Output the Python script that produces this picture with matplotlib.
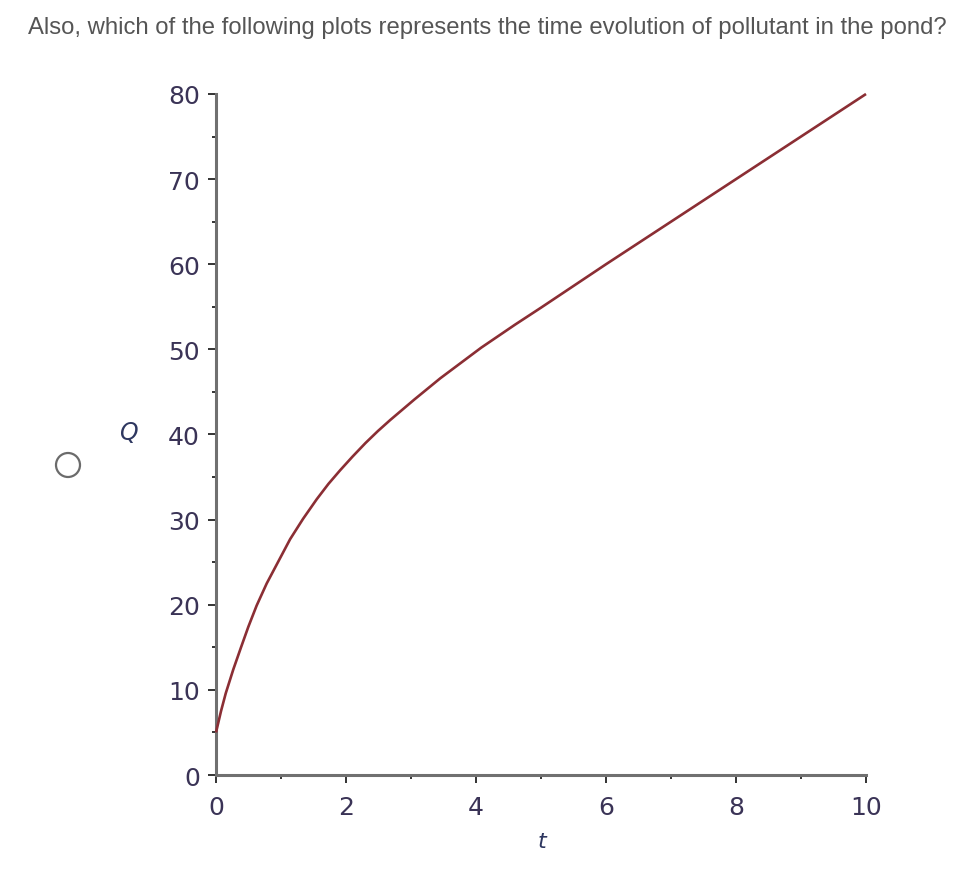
import numpy as np
import matplotlib
matplotlib.use("Agg")
import matplotlib.pyplot as plt
from matplotlib.patches import Ellipse
from matplotlib.ticker import MultipleLocator

# ── data ─────────────────────────────────────────────────────────────
t_vals = [0.0, 0.077, 0.15, 0.266, 0.385, 0.497, 0.625, 0.78, 0.96, 1.14,
          1.34, 1.55, 1.73, 1.91, 2.1, 2.3, 2.49, 2.68, 3.05, 3.45,
          3.8, 4.08, 4.6, 5.0, 5.5, 6.0, 7.0, 8.0, 9.0, 10.0]
q_vals = [5.0, 7.5, 9.6, 12.4, 15.0, 17.4, 19.9, 22.5, 25.1, 27.7,
          30.1, 32.4, 34.2, 35.8, 37.4, 39.0, 40.4, 41.7, 44.1, 46.6,
          48.6, 50.2, 52.9, 54.9, 57.45, 60.0, 65.0, 70.0, 75.0, 80.0]
x_ticks = [0, 2, 4, 6, 8, 10]
y_ticks = [0, 10, 20, 30, 40, 50, 60, 70, 80]

question = "Also, which of the following plots represents the time evolution of pollutant in the pond?"

W, H = 976, 870
fig = plt.figure(figsize=(W / 100, H / 100), dpi=100)
fig.patch.set_facecolor("white")

# -- question text + radio button
fig.text(28 / W, 1 - 28 / H, question, family="Liberation Sans", fontsize=17.2,
         color="#555555", ha="left", va="center")
fig.patches.append(Ellipse((68 / W, 1 - 466 / H), 24 / W, 24 / H,
                           transform=fig.transFigure,
                           facecolor="white", edgecolor="#6b6b6b", lw=1.6))

# -- plot area (pixel-matched)
ax = fig.add_axes([216 / W, 1 - 776 / H, 650 / W, 681 / H])
ax.plot(t_vals, q_vals, color="#8b2e34", lw=1.9, solid_capstyle="butt",
        solid_joinstyle="round", clip_on=False, zorder=3)
ax.set_xlim(0, 10)
ax.set_ylim(0, 80)

for s in ("top", "right"):
    ax.spines[s].set_visible(False)
for s in ("left", "bottom"):
    ax.spines[s].set_color("#707070")
    ax.spines[s].set_linewidth(2.2)

ax.set_xticks(x_ticks)
ax.set_yticks(y_ticks)
ax.xaxis.set_minor_locator(MultipleLocator(1))
ax.yaxis.set_minor_locator(MultipleLocator(5))
lab_col = "#3a3356"
ax.tick_params(which="major", direction="out", length=5.5, width=1.4,
               color="#333333", labelsize=18, labelcolor=lab_col)
ax.tick_params(which="minor", direction="out", length=3, width=1.4, color="#333333")
ax.tick_params(axis="x", which="major", pad=9)
ax.tick_params(axis="y", which="major", pad=6)

# axis labels
ax.text(-88 / 65, 40.3, "Q", style="italic", fontsize=17, color="#2e3760",
        ha="center", va="center")
ax.text(5.02, -7.8, "t", style="italic", fontsize=16, color="#2e3760",
        ha="center", va="center")

fig.savefig("out.png", dpi=100, facecolor="white")
